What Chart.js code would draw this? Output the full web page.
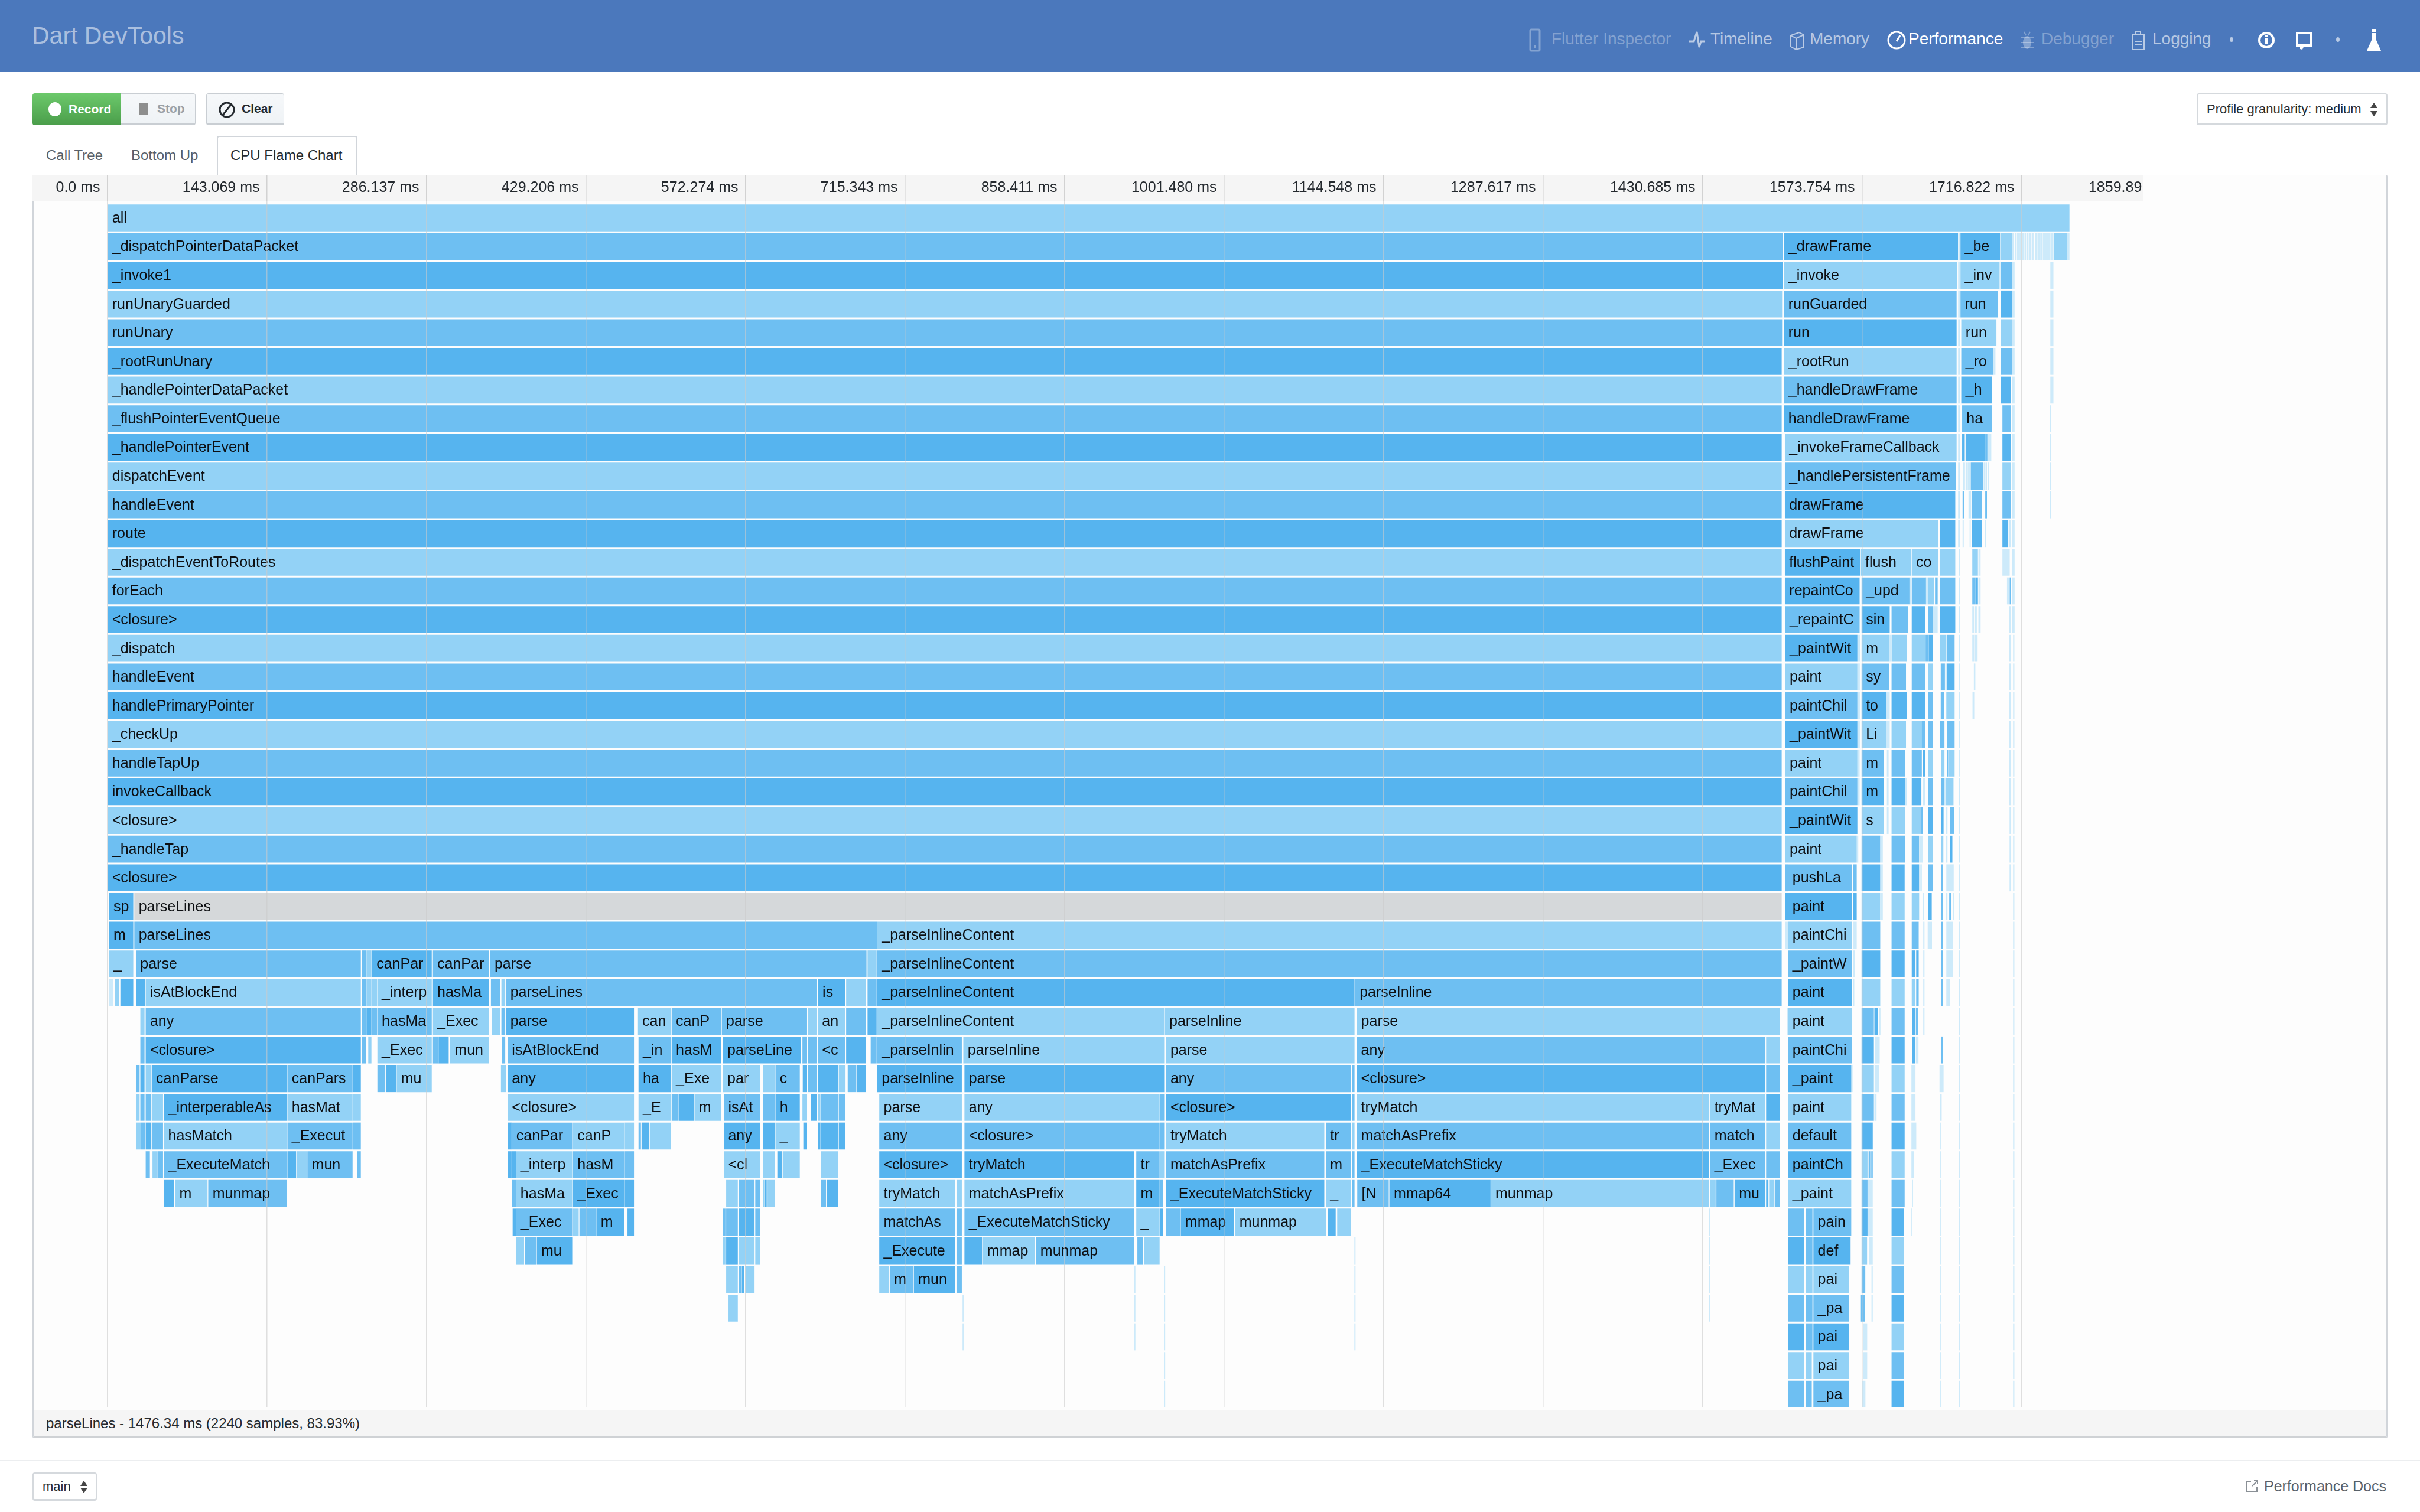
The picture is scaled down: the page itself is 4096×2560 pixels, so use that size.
<!DOCTYPE html>
<html>
<head>
<meta charset="utf-8">
<title>Dart DevTools</title>
<script src="https://cdn.jsdelivr.net/npm/chart.js@4"></script>
<style>
html, body { margin: 0; padding: 0; background: #fff; width: 4096px; height: 2560px; overflow: hidden; }
body { font-family: "Liberation Sans", Arial, sans-serif; color: #24292e; position: relative; }
.abs { position: absolute; white-space: nowrap; }
#header { left: 0; top: 0; width: 4096px; height: 122px; background: #4b78bc; }
.title { left: 54px; top: 36px; font-size: 41px; line-height: 48px; color: rgba(255,255,255,.55); }
.nav { top: 50px; font-size: 28px; line-height: 32px; color: rgba(255,255,255,.62); }
.nav.off { color: rgba(255,255,255,.32); }
.nav.on { color: #fff; }
.btn { top: 158px; height: 54px; box-sizing: border-box; border: 1px solid #c9ced3; border-bottom-width: 3px; font-size: 21px; font-weight: bold; line-height: 50px; background: linear-gradient(#f6f8fa, #eff3f6); }
.tab { top: 248px; font-size: 24px; line-height: 30px; color: #586069; }
.select { box-sizing: border-box; border: 2px solid #d5d9dd; border-bottom-width: 3px; border-radius: 4px; background: #fff; font-size: 22px; }
.arrows { width: 0; height: 0; }
.up { border-left: 6px solid transparent; border-right: 6px solid transparent; border-bottom: 9px solid #444; }
.down { border-left: 6px solid transparent; border-right: 6px solid transparent; border-top: 9px solid #444; }
#panel { left: 55px; top: 296px; width: 3986px; height: 2139px; box-sizing: border-box; background: #fdfdfd; border: 2px solid #d1d5da; border-top: none; border-bottom: 3px solid #cfd2d5; border-radius: 3px; }
#axisBar { left: 55px; top: 296px; width: 3573px; height: 45px; background: #f5f5f5; }
#summary { left: 57px; top: 2388px; width: 3982px; height: 44px; background: #f5f5f5; font-size: 24px; line-height: 44px; text-indent: 21px; }
#chartClip { left: 55px; top: 296px; width: 3573px; height: 2092px; overflow: hidden; }
#hr { left: 0; top: 2472px; width: 4096px; height: 2px; background: #eceef0; }
svg { position: absolute; }
</style>
</head>
<body>
<div id="header" class="abs"></div>
<div class="abs title">Dart DevTools</div>

<svg style="left:2588px;top:48px" width="20" height="40" viewBox="0 0 20 40"><rect x="2" y="2" width="16" height="36" rx="2" fill="none" stroke="rgba(255,255,255,.32)" stroke-width="3"/><rect x="8" y="28" width="4" height="5" fill="rgba(255,255,255,.32)"/></svg>
<div class="abs nav off" style="left:2626px">Flutter Inspector</div>
<svg style="left:2858px;top:50px" width="28" height="34" viewBox="0 0 28 34"><path d="M1 20h8l5-16 4 26 3-10h6" fill="none" stroke="rgba(255,255,255,.62)" stroke-width="3"/></svg>
<div class="abs nav" style="left:2895px">Timeline</div>
<svg style="left:3028px;top:52px" width="28" height="34" viewBox="0 0 28 34"><path d="M3 8l14-5 8 4v21l-13 4-9-5zM3 8l9 5v19M12 13l13-6" fill="none" stroke="rgba(255,255,255,.62)" stroke-width="2"/></svg>
<div class="abs nav" style="left:3063px">Memory</div>
<svg style="left:3194px;top:50px" width="32" height="36" viewBox="0 0 32 36"><circle cx="16" cy="18" r="14" fill="none" stroke="#fff" stroke-width="3"/><path d="M16 20l6-10" stroke="#fff" stroke-width="3"/></svg>
<div class="abs nav on" style="left:3230px">Performance</div>
<svg style="left:3418px;top:52px" width="26" height="34" viewBox="0 0 26 34"><ellipse cx="13" cy="20" rx="7" ry="11" fill="rgba(255,255,255,.32)"/><path d="M2 12l22 0M2 20l22 0M2 28l22 0M8 2l3 6M18 2l-3 6" stroke="rgba(255,255,255,.32)" stroke-width="2"/></svg>
<div class="abs nav off" style="left:3455px">Debugger</div>
<svg style="left:3606px;top:50px" width="26" height="36" viewBox="0 0 26 36"><path d="M3 8h20v26H3zM9 8V3h8v5" fill="none" stroke="rgba(255,255,255,.62)" stroke-width="2"/><path d="M8 20h12M8 26h12" stroke="rgba(255,255,255,.62)" stroke-width="2"/></svg>
<div class="abs nav" style="left:3643px">Logging</div>
<svg style="left:3772px;top:60px" width="10" height="14" viewBox="0 0 10 14"><ellipse cx="5" cy="7" rx="3" ry="4" fill="rgba(255,255,255,.62)"/></svg>
<svg style="left:3820px;top:50px" width="32" height="36" viewBox="0 0 32 36"><circle cx="16" cy="18" r="12" fill="none" stroke="#fff" stroke-width="4"/><path d="M16 15v10M16 10v3" stroke="#fff" stroke-width="4"/></svg>
<svg style="left:3884px;top:52px" width="32" height="36" viewBox="0 0 32 36"><path d="M4 4h24v21H14l-3 6v-6H4z" fill="none" stroke="#fff" stroke-width="4"/></svg>
<svg style="left:3952px;top:60px" width="10" height="14" viewBox="0 0 10 14"><ellipse cx="5" cy="7" rx="3" ry="4" fill="rgba(255,255,255,.62)"/></svg>
<svg style="left:4004px;top:48px" width="28" height="40" viewBox="0 0 28 40"><path d="M10 8h8v12l8 18H2l8-18z" fill="#fff"/><path d="M11 1h6v5h-6z" fill="#fff"/></svg>

<div class="abs btn" style="left:55px;width:150px;background:linear-gradient(#6cc96b,#4a9d4a);border:none;border-radius:4px 0 0 4px;color:#fff;line-height:54px;padding-left:61px;box-sizing:border-box">Record</div>
<svg style="left:81px;top:170px" width="24" height="30" viewBox="0 0 24 30"><ellipse cx="12" cy="15" rx="11" ry="12" fill="#fff"/></svg>
<div class="abs btn" style="left:204px;width:127px;border-radius:0 4px 4px 0;color:#9aa0a6;padding-left:61px">Stop</div>
<svg style="left:235px;top:174px" width="18" height="22"><rect width="16" height="20" fill="#8e8e8e"/></svg>
<div class="abs btn" style="left:349px;width:132px;border-radius:4px;color:#24292e;padding-left:59px">Clear</div>
<svg style="left:370px;top:170px" width="28" height="32" viewBox="0 0 28 32"><circle cx="14" cy="16" r="12" fill="none" stroke="#24292e" stroke-width="3"/><path d="M6 26L22 6" stroke="#24292e" stroke-width="3"/></svg>

<div class="abs select" style="left:3718px;top:158px;width:323px;height:54px;line-height:50px;padding-left:15px;color:#24292e">Profile granularity: medium</div>
<div class="abs arrows up" style="left:4012px;top:174px"></div>
<div class="abs arrows down" style="left:4012px;top:188px"></div>

<div class="abs tab" style="left:78px">Call Tree</div>
<div class="abs tab" style="left:222px">Bottom Up</div>
<div class="abs" style="left:367px;top:230px;width:238px;height:67px;box-sizing:border-box;background:#fff;border:2px solid #d1d5da;border-bottom:none;border-radius:4px 4px 0 0"></div>
<div class="abs tab" style="left:390px;color:#24292e">CPU Flame Chart</div>

<div id="panel" class="abs"></div>
<div id="axisBar" class="abs"></div>
<div id="chartClip" class="abs"><canvas id="flame" width="3650" height="2092" style="display:block"></canvas></div>
<div id="summary" class="abs">parseLines - 1476.34 ms (2240 samples, 83.93%)</div>

<div id="hr" class="abs"></div>
<div class="abs select" style="left:55px;top:2493px;width:109px;height:48px;line-height:44px;padding-left:15px">main</div>
<div class="abs arrows up" style="left:136px;top:2507px"></div>
<div class="abs arrows down" style="left:136px;top:2519px"></div>
<svg style="left:3800px;top:2504px" width="24" height="24" viewBox="0 0 24 24"><path d="M20 14v7H3V4h7M12 12L21 3M15 3h6v6" fill="none" stroke="#8a9096" stroke-width="2"/></svg>
<div class="abs" style="left:3832px;top:2501px;font-size:25px;line-height:30px;color:#586069">Performance Docs</div>

<script>
var timeTickValues = [0, 143.069, 286.137, 429.206, 572.274, 715.343, 858.411, 1001.48, 1144.548, 1287.617, 1430.685, 1573.754, 1716.822, 1859.89];
var timeTickLabels = ['0.0 ms', '143.069 ms', '286.137 ms', '429.206 ms', '572.274 ms', '715.343 ms', '858.411 ms', '1001.480 ms', '1144.548 ms', '1287.617 ms', '1430.685 ms', '1573.754 ms', '1716.822 ms', '1859.891 ms'];

// [row, start ms, end ms, frame name]
var selectedFrames = [
	[24, 24.2, 1501.3, 'parseLines']
];

var lightFrames = [
	[0, 0, 1759.4, 'all'],
	[1, 1698.4, 1707.7], [1, 1745.6, 1757.2],
	[2, 1503.7, 1658.9, '_invoke'], [2, 1662, 1696, '_inv'],
	[3, 0, 1501.7, 'runUnaryGuarded'],
	[4, 1662.7, 1693.9, 'run'], [4, 1698.4, 1707.7],
	[5, 1503.7, 1658.2, '_rootRun'],
	[6, 0, 1501.3, '_handlePointerDataPacket'],
	[8, 1504.5, 1658.2, '_invokeFrameCallback'],
	[9, 0, 1501.3, 'dispatchEvent'], [9, 1699.6, 1707.1],
	[11, 1504.5, 1641.6, 'drawFrame'],
	[12, 0, 1501.3, '_dispatchEventToRoutes'], [12, 1572.7, 1617.3, 'flush'], [12, 1618.3, 1641.6, 'co'], [12, 1643.6, 1657], [12, 1672.6, 1677.3],
	[13, 1633.1, 1638.2],
	[15, 0, 1501.3, '_dispatch'], [15, 1573.3, 1597.6, 'm'], [15, 1600.2, 1613.8], [15, 1618.3, 1630], [15, 1643.6, 1648.3],
	[16, 1504.9, 1569.2, 'paint'], [16, 1633.1, 1636.7],
	[17, 1649.3, 1656.4],
	[18, 0, 1501.3, '_checkUp'], [18, 1573.3, 1595, 'Li'], [18, 1600.2, 1612.8], [18, 1618.3, 1627],
	[19, 1504.9, 1569.2, 'paint'], [19, 1633.1, 1636.7], [19, 1644.9, 1647.3], [19, 1651.3, 1656.4],
	[20, 1648.9, 1655.4],
	[21, 0, 1501.3, '<closure>'], [21, 1573.3, 1592.9, 's'], [21, 1600.2, 1612.2], [21, 1618.3, 1625.4],
	[22, 1504.9, 1568.6, 'paint'], [22, 1633.1, 1636.7], [22, 1644.9, 1646.3],
	[24, 1573.3, 1589.7], [24, 1600.2, 1611.6], [24, 1618.3, 1624.6],
	[25, 690.6, 1501.3, '_parseInlineContent'], [25, 1507.4, 1564.5, 'paintChi'],
	[26, 1.6, 22.9, '_'], [26, 232.4, 236.5], [26, 681.8, 689.6],
	[27, 6.7, 10], [27, 34.4, 227, 'isAtBlockEnd'], [27, 232.4, 236.5], [27, 237.5, 241.6], [27, 242.2, 290.6, '_interp'], [27, 353.4, 356.5], [27, 662.6, 679.9],
	[27, 1573.3, 1589.7], [27, 1600.2, 1611.6], [27, 1618.3, 1621.3],
	[28, 29.6, 33], [28, 292, 342, '_Exec'], [28, 344.7, 352.1], [28, 475.9, 505, 'can'], [28, 628.3, 636.1], [28, 637.1, 661.3, 'an'],
	[28, 690.6, 947.5, '_parseInlineContent'], [28, 948.5, 1118.2, 'parseInline'], [28, 1120.5, 1499.9, 'parse'], [28, 1507.4, 1564.5, 'paint'],
	[29, 234, 236.5], [29, 242.2, 290.6, '_Exec'], [29, 307.5, 342, 'mun'], [29, 767.7, 947.5, 'parseInline'], [29, 949.5, 1118.2, 'parse'], [29, 1487.7, 1499.9],
	[30, 34.4, 38.8], [30, 259.5, 290.6, 'mu'], [30, 353, 357.5], [30, 506.1, 550.1, '_Exe'], [30, 552.2, 584.9, 'par'], [30, 588, 598.3], [30, 656, 661.7],
	[30, 1573.3, 1584], [30, 1600.2, 1611.6],
	[31, 39.8, 49.6], [31, 161.5, 219.6, 'hasMat'], [31, 220.6, 227], [31, 25.6, 28.6], [31, 358.9, 472, '<closure>'], [31, 476.4, 505, '_E'], [31, 526.6, 550.1, 'm'], [31, 623.4, 627.2], [31, 637.5, 639.2],
	[31, 692.3, 766, 'parse'], [31, 768.7, 943.4, 'any'], [31, 1120.5, 1436.4, 'tryMatch'], [31, 1437.4, 1486.7, 'tryMat'], [31, 1507.4, 1563.7, 'paint'],
	[32, 25.6, 29.6], [32, 50.6, 160.5, 'hasMatch'], [32, 417.7, 463, 'canP'], [32, 464, 472], [32, 486.5, 505], [32, 599.2, 620.7, '_'], [32, 949.5, 1091.1, 'tryMatch'], [32, 1116.5, 1118.2], [32, 1487.7, 1499.9],
	[33, 40.5, 43.8], [33, 169.6, 178.4], [33, 366.6, 416.6, '_interp'], [33, 552.9, 584.9, '<cl'], [33, 588, 598.3], [33, 605.7, 620.7], [33, 640.1, 655.1], [33, 944.4, 947.5],
	[33, 1573.3, 1578.3], [33, 1600.2, 1611.6],
	[34, 60.7, 89.5, 'm'], [34, 366.6, 416.6, 'hasMa'], [34, 555, 565.1], [34, 588, 588.9], [34, 592.1, 598.3], [34, 692.3, 759.9, 'tryMatch'], [34, 761.6, 766], [34, 768.7, 920.4, 'matchAsPrefix'], [34, 1092.8, 1114.8, '_'],
	[34, 1241, 1436, 'munmap'], [34, 1437.4, 1442.1], [34, 1490.4, 1494.8], [34, 1507.4, 1563.7, '_paint'],
	[35, 417.7, 422.4], [35, 922.8, 943.4, '_'], [35, 1011.4, 1092.8, 'munmap'], [35, 1103, 1114.8],
	[36, 366.6, 373.4], [36, 552.2, 554], [36, 566.1, 580.1], [36, 581.1, 584.9], [36, 785.2, 831.5, 'mmap'], [36, 929.6, 943.4], [36, 1573.3, 1577.9], [36, 1600.2, 1610.8],
	[37, 555, 565.1], [37, 572.1, 580.1], [37, 692.3, 700.7], [37, 1507.4, 1521.6], [37, 1523.6, 1528.9], [37, 1530.1, 1561.7, 'pai'],
	[38, 557.1, 565.1],
	[39, 1600.2, 1610.8],
	[40, 1507.4, 1521.6], [40, 1523.6, 1528.3], [40, 1530.1, 1561.7, 'pai']
];

var mediumFrames = [
	[1, 0, 1502.5, '_dispatchPointerDataPacket'],
	[2, 1698.4, 1707.7],
	[3, 1503.7, 1658.2, 'runGuarded'], [3, 1662, 1695.4, 'run'],
	[4, 0, 1501.7, 'runUnary'],
	[5, 1662.7, 1691.3, '_ro'], [5, 1698.4, 1707.7],
	[6, 1503.7, 1658.2, '_handleDrawFrame'],
	[7, 0, 1501.3, '_flushPointerEventQueue'], [7, 1663.5, 1689.9, 'ha'], [7, 1699.6, 1707.1],
	[8, 1684.2, 1685.8],
	[9, 1504.5, 1657.8, '_handlePersistentFrame'], [9, 1671.2, 1681.8],
	[10, 0, 1501.3, 'handleEvent'], [10, 1663.9, 1665.1], [10, 1672, 1681], [10, 1684.2, 1685.4], [10, 1699.6, 1707.1],
	[13, 0, 1501.3, 'forEach'], [13, 1573.3, 1615.9, '_upd'], [13, 1618.3, 1630.7], [13, 1639.2, 1641.2], [13, 1643.6, 1657], [13, 1672.6, 1674.7], [13, 1706.1, 1707.1],
	[14, 1504.9, 1571.2, '_repaintC'], [14, 1600.2, 1614.8], [14, 1633.1, 1636.7],
	[15, 1630.7, 1633.1], [15, 1649.7, 1656.4],
	[16, 0, 1501.3, 'handleEvent'], [16, 1573.3, 1597.6, 'sy'], [16, 1600.2, 1612.8], [16, 1618.3, 1630], [16, 1644.3, 1647.7],
	[17, 1504.9, 1569.2, 'paintChil'], [17, 1633.1, 1636.7], [17, 1644.3, 1646.9],
	[18, 1627, 1630], [18, 1633.1, 1636.7], [18, 1643.6, 1647.3], [18, 1649.7, 1656.4],
	[19, 0, 1501.3, 'handleTapUp'], [19, 1573.3, 1592.9, 'm'], [19, 1600.2, 1612.2], [19, 1618.3, 1627], [19, 1649.7, 1650.7],
	[20, 1504.9, 1569.2, 'paintChil'], [20, 1633.1, 1636.7], [20, 1644.9, 1646.9],
	[21, 1626, 1627.8], [21, 1652.4, 1655.8],
	[22, 0, 1501.3, '_handleTap'], [22, 1573.3, 1589.7], [22, 1600.2, 1612.2], [22, 1618.3, 1624.6],
	[23, 1504.9, 1507], [23, 1507.4, 1564.5, 'pushLa'], [23, 1565.8, 1568.6], [23, 1633.1, 1636.7], [23, 1644.9, 1645.7],
	[24, 1644.9, 1645.7], [24, 1651.9, 1653.3],
	[25, 24.2, 689.9, 'parseLines'], [25, 1573.3, 1589.7], [25, 1600.2, 1611.6], [25, 1618.3, 1624.2], [25, 1644.9, 1645.7],
	[26, 25.6, 227, 'parse'], [26, 228.4, 231.4], [26, 292, 342, 'canPar'], [26, 343.3, 680.5, 'parse'], [26, 690.6, 1501.3, '_parseInlineContent'], [26, 1507.4, 1564.5, '_paintW'], [26, 1644.9, 1645.7],
	[27, 228.4, 231.4], [27, 344, 352.1], [27, 357.5, 635.7, 'parseLines'], [27, 681.8, 689.6], [27, 1119.2, 1501.3, 'parseInline'], [27, 1622.3, 1624.2], [27, 1644.9, 1645.7],
	[28, 34.4, 227, 'any'], [28, 228.4, 231.4], [28, 237.5, 241.6], [28, 242.2, 290.6, 'hasMa'], [28, 353.4, 356.5], [28, 506.1, 550.1, 'canP'], [28, 551.1, 627.2, 'parse'], [28, 662.6, 679.9],
	[28, 1573.3, 1584], [28, 1600.2, 1611.6], [28, 1622, 1623.4],
	[29, 29.6, 33], [29, 228.4, 231.4], [29, 292, 297], [29, 354, 356.5], [29, 358.9, 472, 'isAtBlockEnd'], [29, 476.4, 505, '_in'], [29, 623.4, 627.2], [29, 628.3, 636.1], [29, 637.1, 661.3, '<c'], [29, 684.6, 689.6],
	[29, 690.6, 766, '_parseInlin'], [29, 1120.5, 1486.7, 'any'], [29, 1507.4, 1564.5, 'paintChi'], [29, 1644.9, 1645.7],
	[30, 25.6, 28.6], [30, 161.5, 219.6, 'canPars'], [30, 242.2, 248.7], [30, 599.2, 620.7, 'c'], [30, 628.3, 636.1], [30, 664, 671.4], [30, 949.5, 1114.8, 'any'], [30, 1116.5, 1118.2], [30, 1487.7, 1499.9],
	[31, 29.6, 33], [31, 34.4, 38.8], [31, 506.1, 511.2], [31, 552.9, 584.9, 'isAt'], [31, 588, 598.3], [31, 640.1, 655.1], [31, 656, 661.3], [31, 944.4, 947.5], [31, 1116.5, 1118.2], [31, 1573.3, 1584], [31, 1600.2, 1611.6],
	[32, 30.3, 33.7], [32, 39.8, 49.6], [32, 161.5, 219.6, '_Execut'], [32, 220.6, 227], [32, 362.9, 416.6, 'canPar'], [32, 476.4, 478.2], [32, 692.3, 766, 'any'], [32, 768.7, 943.4, '<closure>'], [32, 944.4, 947.5], [32, 1092.8, 1114.8, 'tr'],
	[32, 1120.5, 1436, 'matchAsPrefix'], [32, 1437.4, 1486.7, 'match'], [32, 1507.4, 1563.7, 'default'],
	[33, 34.4, 37.8], [33, 44.9, 49.6], [33, 50.6, 160.5, '_ExecuteMatch'], [33, 179.4, 219.6, 'mun'], [33, 224, 227], [33, 417.7, 463, 'hasM'], [33, 464, 472], [33, 922.8, 943.4, 'tr'], [33, 949.5, 1091.1, 'matchAsPrefix'], [33, 1092.8, 1114.8, 'm'], [33, 1116.5, 1118.2],
	[33, 1437.4, 1486.7, '_Exec'], [33, 1487.7, 1499.9], [33, 1579.6, 1580.8], [33, 1582, 1583],
	[34, 90.5, 160.5, 'munmap'], [34, 362.9, 366], [34, 566.1, 580.1], [34, 581.1, 584.9], [34, 640.1, 644.2], [34, 944.4, 946.4], [34, 1116.5, 1118.2], [34, 1121, 1148.9, '[N'], [34, 1443.1, 1458.3], [34, 1495.9, 1499.9], [34, 1573.3, 1578.3], [34, 1600.2, 1611.6],
	[35, 366.6, 416.6, '_Exec'], [35, 423.4, 437.6], [35, 552.2, 554], [35, 555, 565.1], [35, 581.1, 584.9], [35, 692.3, 759.9, 'matchAs'], [35, 761.6, 766], [35, 768.7, 920.4, '_ExecuteMatchSticky'], [35, 949.5, 961.7],
	[35, 1507.4, 1521.6], [35, 1523.6, 1528.9], [35, 1530.1, 1563.7, 'pain'],
	[36, 374.4, 384.5], [36, 761.6, 766], [36, 832.9, 920.4, 'munmap'], [36, 923.8, 928.2], [36, 1523.6, 1528.9],
	[37, 566.1, 568.6], [37, 701.7, 722.7, 'm'], [37, 761.6, 766], [37, 1573.3, 1576.3], [37, 1600.2, 1610.8],
	[38, 1507.4, 1521.6], [38, 1523.6, 1528.9], [38, 1530.1, 1561.7, '_pa'], [38, 1572.7, 1575.7],
	[39, 1523.6, 1528.9],
	[40, 1600.2, 1610.8],
	[41, 1507.4, 1521.6], [41, 1523.6, 1528.3], [41, 1530.1, 1561.7, '_pa']
];

var darkFrames = [
	[1, 1503.7, 1659.5, '_drawFrame'], [1, 1662, 1697.2, '_be'],
	[2, 0, 1502.5, '_invoke1'],
	[3, 1698.4, 1707.7],
	[4, 1503.7, 1658.2, 'run'],
	[5, 0, 1501.3, '_rootRunUnary'],
	[6, 1662.7, 1689.9, '_h'], [6, 1698.4, 1707.1],
	[7, 1503.7, 1658.2, 'handleDrawFrame'],
	[8, 0, 1501.3, '_handlePointerEvent'], [8, 1663.5, 1665.5], [8, 1666.6, 1683.4], [8, 1699.6, 1707.1],
	[10, 1504.5, 1657, 'drawFrame'],
	[11, 0, 1501.3, 'route'], [11, 1643.6, 1657], [11, 1672, 1681], [11, 1699.6, 1704.5],
	[12, 1504.5, 1571.6, 'flushPaint'],
	[13, 1504.5, 1571.2, 'repaintCo'], [13, 1675.3, 1677.3],
	[14, 0, 1501.3, '<closure>'], [14, 1573.3, 1598.2, 'sin'], [14, 1618.3, 1630], [14, 1643.6, 1657],
	[15, 1504.9, 1569.2, '_paintWit'], [15, 1633.5, 1636.7],
	[16, 1649.7, 1656.4],
	[17, 0, 1501.3, 'handlePrimaryPointer'], [17, 1573.3, 1595, 'to'], [17, 1600.2, 1613.4], [17, 1618.3, 1630],
	[18, 1504.9, 1569.2, '_paintWit'],
	[19, 1628, 1630],
	[20, 0, 1501.3, 'invokeCallback'], [20, 1573.3, 1592.9, 'm'], [20, 1600.2, 1612.2], [20, 1618.3, 1626.6],
	[21, 1504.9, 1569.2, '_paintWit'], [21, 1633.1, 1636.7], [21, 1644.9, 1646.5],
	[22, 1652.4, 1654.4],
	[23, 0, 1501.3, '<closure>'], [23, 1573.3, 1589.7], [23, 1600.2, 1611.6], [23, 1618.3, 1624.6],
	[24, 1.6, 22.9, 'sp'], [24, 1504.9, 1507], [24, 1507.4, 1564.5, 'paint'], [24, 1565.8, 1568.6], [24, 1633.1, 1635.9],
	[25, 1.6, 22.9, 'm'],
	[26, 237.5, 290.6, 'canPar'], [26, 1573.3, 1589.7], [26, 1600.2, 1611.6], [26, 1618.3, 1621.3], [26, 1622.3, 1624.2],
	[27, 11.7, 22.9], [27, 25.6, 33.7], [27, 292, 342, 'hasMa'], [27, 637.5, 661.3, 'is'], [27, 690.6, 1118.2, '_parseInlineContent'], [27, 1507.4, 1564.5, 'paint'],
	[28, 232.4, 236.5], [28, 357.5, 472, 'parse'], [28, 681.8, 689.6], [28, 1584.8, 1587.7], [28, 1618.5, 1620.9],
	[29, 34.4, 227, '<closure>'], [29, 297.3, 305.8], [29, 506.1, 550.1, 'hasM'], [29, 552.2, 621.9, 'parseLine'], [29, 662.6, 679.9], [29, 1573.3, 1584], [29, 1600.2, 1611.6], [29, 1618.5, 1620.9],
	[30, 29.6, 33], [30, 39.8, 160.5, 'canParse'], [30, 220.6, 227], [30, 249.7, 258.5], [30, 358.9, 472, 'any'], [30, 476.4, 505, 'ha'], [30, 623.7, 627.2], [30, 637.5, 655.1], [30, 672.4, 679.9],
	[30, 690.6, 766, 'parseInline'], [30, 768.7, 947.5, 'parse'], [30, 1120.5, 1486.7, '<closure>'], [30, 1507.4, 1563.7, '_paint'],
	[31, 50.6, 160.5, '_interperableAs'], [31, 512.3, 525.7], [31, 599.2, 620.7, 'h'], [31, 631, 636.1], [31, 949.5, 1114.8, '<closure>'], [31, 1487.7, 1499.9],
	[32, 34.4, 38.8], [32, 358.9, 362.2], [32, 479.1, 485.3], [32, 552.9, 584.9, 'any'], [32, 588, 598.3], [32, 624.2, 627.2], [32, 637.5, 639.2], [32, 640.1, 655.1], [32, 656, 661.3], [32, 1573.3, 1583], [32, 1600.2, 1611.6],
	[33, 161.5, 168.9], [33, 358.9, 362.2], [33, 362.9, 366], [33, 600.9, 604.8], [33, 692.3, 766, '<closure>'], [33, 768.7, 920.4, 'tryMatch'], [33, 1120.5, 1436, '_ExecuteMatchSticky'], [33, 1507.4, 1563.7, 'paintCh'],
	[34, 50.6, 59.4], [34, 417.7, 463, '_Exec'], [34, 464, 472], [34, 589.4, 591], [34, 645.4, 655.1], [34, 922.8, 943.4, 'm'], [34, 949.5, 1091.1, '_ExecuteMatchSticky'], [34, 1149.8, 1240.2, 'mmap64'], [34, 1459.4, 1486.7, 'mu'], [34, 1487.7, 1489.4],
	[35, 363.5, 366], [35, 438.6, 463, 'm'], [35, 466.5, 472], [35, 566.1, 580.1], [35, 944.4, 946.4], [35, 962.7, 1010, 'mmap'], [35, 1094.5, 1101.3], [35, 1573.3, 1578.3], [35, 1600.2, 1610.8],
	[36, 385.2, 416.6, 'mu'], [36, 555, 565.1], [36, 692.3, 759.9, '_Execute'], [36, 768.7, 784.2], [36, 1507.4, 1521.6], [36, 1530.1, 1563.1, 'def'],
	[37, 569.1, 570.9], [37, 723.4, 759.9, 'mun'],
	[38, 1600.2, 1610.8],
	[39, 1507.4, 1521.6], [39, 1530.1, 1561.7, 'pai'],
	[41, 1600.2, 1610.8]
];

// hairline frames too narrow to read a name from
var paleFrames = [
	[1, 1660.5, 1661.5], [1, 1708.5, 1709.7], [1, 1710.6, 1711.8], [1, 1712.6, 1714], [1, 1714.9, 1716], [1, 1716.8, 1718.6], [1, 1719.4, 1720.5], [1, 1721.4, 1722.7], [1, 1723.4, 1725.2], [1, 1725.9, 1727.2], [1, 1728.9, 1730.2], [1, 1731, 1732.9], [1, 1733.5, 1735], [1, 1735.8, 1737.4], [1, 1738, 1740], [1, 1740.8, 1742.4], [1, 1743, 1745], [1, 1757.6, 1759.4],
	[2, 1696.2, 1697.4],
	[5, 1691.8, 1693],
	[7, 1688.5, 1689.5],
	[8, 1686.2, 1689.3],
	[9, 1664.4, 1665.7], [9, 1666.6, 1667.8], [9, 1668.4, 1670.4], [9, 1682.8, 1683.8], [9, 1684.4, 1685.4], [9, 1686.8, 1687.4],
	[10, 1669.2, 1671.2],
	[11, 1663.9, 1664.6], [11, 1670.2, 1670.8], [11, 1683.8, 1684.6], [11, 1705.7, 1707.1],
	[12, 1678.1, 1679.7], [12, 1699.6, 1705.8],
	[13, 1616.1, 1617.3], [13, 1630.7, 1632.8], [13, 1678.1, 1679.7], [13, 1703.7, 1705.1],
	[14, 1636.9, 1641.2], [14, 1672.6, 1673.8], [14, 1675, 1676.3], [14, 1678.1, 1679.7], [14, 1705.7, 1707.1],
	[15, 1570, 1571.8], [15, 1597.8, 1599], [15, 1648.6, 1649.3], [15, 1672.6, 1674], [15, 1675, 1677], [15, 1705.7, 1707.1],
	[16, 1569.8, 1571.4], [16, 1648.4, 1649.3], [16, 1674, 1675], [16, 1705.7, 1707.1],
	[17, 1595.4, 1598.2], [17, 1570, 1571.4], [17, 1672.8, 1674], [17, 1705.7, 1707.1],
	[18, 1595.4, 1598.2], [18, 1570, 1571.4], [18, 1705.7, 1707.1],
	[19, 1570, 1571.2], [19, 1596, 1597.2], [19, 1705.7, 1707.1],
	[20, 1570, 1571.2], [20, 1596, 1597.2], [20, 1612.4, 1613.8], [20, 1628, 1630], [20, 1647.3, 1648.2], [20, 1705.7, 1707.1],
	[21, 1596, 1597.2], [21, 1649, 1650], [21, 1706, 1707.1],
	[22, 1569, 1570], [22, 1590.5, 1592], [22, 1625.4, 1627.6], [22, 1649, 1650], [22, 1706, 1707.1],
	[23, 1590.5, 1592], [23, 1626, 1627], [23, 1649.3, 1655.6], [23, 1706, 1707.1],
	[24, 1590.5, 1592], [24, 1628, 1628.8], [24, 1649, 1650], [24, 1655, 1655.8],
	[25, 1504.5, 1507], [25, 1566, 1568.6], [25, 1628.6, 1629.4], [25, 1632.6, 1636.1], [25, 1649.3, 1654.8],
	[26, 1566, 1567], [26, 1628.6, 1629.4], [26, 1649.3, 1654.8],
	[27, 1565.6, 1566.4], [27, 1628.6, 1629.4], [27, 1649.3, 1652.4],
	[27, 1.6, 5],
	[28, 1506.5, 1507], [28, 1588.9, 1589.9], [28, 1628.6, 1629.4],
	[29, 1585.2, 1589.2], [29, 1622, 1624],
	[30, 1585, 1588.5], [30, 1564, 1564.9], [30, 1618, 1621.3], [30, 1643.2, 1646.5],
	[31, 1584.8, 1586.4], [31, 1618, 1621.3], [31, 1643.4, 1644.8],
	[32, 1618, 1622],
	[33, 1618, 1620],
	[34, 1579, 1583], [34, 1618.5, 1619.1],
	[35, 1579, 1583], [35, 1618, 1618.5],
	[36, 1580, 1583],
	[37, 1582.2, 1583],
	[38, 1582.2, 1583],
	[39, 1574.6, 1578],
	[40, 1574.6, 1578],
	[41, 1574, 1576.4]
];

// [start ms, end ms, first row, last row] of hairlines running down several rows
var paleColumns = [
	[1659.9, 1661.1, 2, 11],
	[1660.5, 1661.2, 12, 41],
	[1643.5, 1644, 32, 41],
	[1708.5, 1710.2, 2, 14],
	[1709.2, 1710, 15, 41],
	[1742.6, 1745, 2, 6],
	[1742.2, 1743, 7, 10],
	[767, 767.7, 38, 39],
	[921, 921.7, 37, 39],
	[947.6, 948.4, 37, 41],
	[1118.4, 1119.1, 36, 39],
	[1436.4, 1437, 35, 38]
];

function toBars(frames) {
	return frames.map(function(frame) {
		return { x: [frame[1], frame[2]], y: frame[0], name: frame[3] };
	});
}

function columnBars() {
	var bars = [];
	paleColumns.forEach(function(column) {
		for (var row = column[2]; row <= column[3]; row++) {
			bars.push({ x: [column[0], column[1]], y: row });
		}
	});
	return bars;
}

function series(label, frames, color) {
	return {
		label: label,
		data: frames,
		backgroundColor: color,
		borderWidth: 0,
		grouped: false,
		barThickness: 45
	};
}

var frameLabels = {
	id: 'frameLabels',
	afterDatasetsDraw: function(chart) {
		var ctx = chart.ctx;
		ctx.save();
		ctx.font = '25px "Liberation Sans"';
		ctx.fillStyle = '#0d0f12';
		ctx.textBaseline = 'middle';
		ctx.textAlign = 'left';
		chart.data.datasets.forEach(function(dataset, datasetIndex) {
			chart.getDatasetMeta(datasetIndex).data.forEach(function(bar, index) {
				var name = dataset.data[index].name;
				if (!name) {
					return;
				}
				ctx.save();
				ctx.beginPath();
				ctx.rect(bar.base, bar.y - bar.height / 2, bar.x - bar.base, bar.height);
				ctx.clip();
				ctx.fillText(name, bar.base + 7, bar.y + 1);
				ctx.restore();
			});
		});
		ctx.restore();
	}
};

Chart.defaults.font.family = '"Liberation Sans"';

new Chart(document.getElementById('flame'), {
	type: 'bar',
	plugins: [frameLabels],
	data: {
		datasets: [
			series('selected', toBars(selectedFrames), '#d5d8da'),
			series('light', toBars(lightFrames), '#93d2f6'),
			series('medium', toBars(mediumFrames), '#6ebff2'),
			series('dark', toBars(darkFrames), '#56b4ef'),
			series('pale', toBars(paleFrames).concat(columnBars()), 'rgba(147, 210, 246, 0.45)')
		]
	},
	options: {
		indexAxis: 'y',
		responsive: false,
		animation: false,
		devicePixelRatio: 1,
		events: [],
		layout: { padding: { left: 127, right: 13, top: 0, bottom: 5 } },
		plugins: { legend: { display: false }, tooltip: { enabled: false } },
		scales: {
			x: {
				type: 'linear',
				position: 'top',
				min: 0,
				max: 1859.89,
				afterBuildTicks: function(scale) {
					scale.ticks = timeTickValues.map(function(value) {
						return { value: value };
					});
				},
				afterFit: function(scale) {
					scale.height = 45;
				},
				border: { display: false },
				grid: {
					z: 1,
					color: 'rgba(204, 204, 204, 0.6)',
					tickColor: '#d2d2d2',
					tickLength: 45,
					lineWidth: 1.5
				},
				ticks: {
					autoSkip: false,
					maxRotation: 0,
					minRotation: 0,
					align: 'end',
					padding: -37,
					color: '#24292e',
					font: { size: 25 },
					callback: function(value, index) {
						return timeTickLabels[index] + '\u2002';
					}
				}
			},
			y: {
				type: 'linear',
				reverse: true,
				offset: false,
				min: -0.576,
				max: 41.46,
				display: false
			}
		}
	}
});
</script>
</body>
</html>
